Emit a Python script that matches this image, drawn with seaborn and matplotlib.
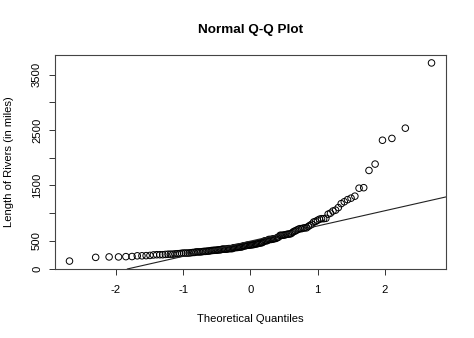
import matplotlib
matplotlib.use("Agg")
import matplotlib.pyplot as plt
import seaborn as sns
import pandas as pd
import numpy as np
from statistics import NormalDist

sns.set_style("white")
plt.rcParams['font.family'] = ['Liberation Sans', 'DejaVu Sans']
plt.rcParams['text.color'] = 'black'
plt.rcParams['axes.labelcolor'] = 'black'
plt.rcParams['xtick.color'] = 'black'
plt.rcParams['ytick.color'] = 'black'

# lengths of major North American rivers (miles)
rivers = [735, 320, 325, 392, 524, 450, 1459, 135, 465, 600, 330, 336, 280, 315, 870,
          906, 202, 329, 290, 1000, 600, 505, 1450, 840, 1243, 890, 350, 407, 286, 280,
          525, 720, 390, 250, 327, 230, 265, 850, 210, 630, 260, 230, 360, 730, 600,
          306, 390, 420, 291, 710, 340, 217, 281, 352, 259, 250, 470, 680, 570, 350,
          300, 560, 900, 625, 332, 2348, 1171, 3710, 2315, 2533, 780, 280, 410, 460, 260,
          255, 431, 350, 760, 618, 338, 981, 1306, 500, 696, 605, 250, 411, 1054, 735,
          233, 435, 490, 310, 460, 383, 375, 1270, 545, 445, 1885, 380, 300, 380, 377,
          425, 276, 210, 800, 420, 350, 360, 538, 1100, 1205, 314, 237, 610, 360, 540,
          1038, 424, 310, 300, 444, 301, 268, 620, 215, 652, 900, 525, 246, 360, 529,
          500, 720, 270, 430, 671, 1770]

x_ticks = [-2, -1, 0, 1, 2]
y_ticks = [0, 500, 1000, 1500, 2000, 2500, 3000, 3500]
y_labels = ["0", "500", "", "1500", "", "2500", "", "3500"]

# theoretical quantiles like R's qqnorm (ppoints, a = 0.5)
y = np.sort(np.array(rivers, dtype=float))
n = len(y)
nd = NormalDist()
theo = np.array([nd.inv_cdf((i + 0.5) / n) for i in range(n)])
df = pd.DataFrame({"Theoretical": theo, "Length": y})

fig = plt.figure(figsize=(4.74, 3.38), dpi=100)
ax = fig.add_axes([55 / 474, 69 / 338, 391 / 474, 214 / 338])

sns.scatterplot(data=df, x="Theoretical", y="Length", ax=ax, marker="o",
                facecolor="none", edgecolor="black", s=22, linewidth=0.7)

# qqline through the quartiles
q1, q3 = np.percentile(y, [25, 75])
z1, z3 = nd.inv_cdf(0.25), nd.inv_cdf(0.75)
slope = (q3 - q1) / (z3 - z1)
ax.axline((z1, q1), slope=slope, color="#222222", linewidth=0.8)

xr = theo.max() - theo.min()
yr = y.max() - y.min()
ax.set_xlim(theo.min() - 0.04 * xr, theo.max() + 0.04 * xr)
ax.set_ylim(y.min() - 0.04 * yr, y.max() + 0.04 * yr)

ax.set_xticks(x_ticks)
ax.set_xticklabels([str(t) for t in x_ticks])
ax.set_yticks(y_ticks)
ax.set_yticklabels(y_labels, rotation=90, va="center")
ax.tick_params(axis="both", direction="out", length=4.3, width=0.7, color="#333333",
               labelsize=8.1, bottom=True, left=True)
ax.tick_params(axis="x", pad=7)
ax.tick_params(axis="y", pad=5)

for sp in ax.spines.values():
    sp.set_color("#444444")
    sp.set_linewidth(0.8)

ax.set_xlabel("Theoretical Quantiles", fontsize=8.1, labelpad=14)
ax.set_ylabel("Length of Rivers (in miles)", fontsize=8.1, labelpad=13)
ax.set_title("Normal Q-Q Plot", fontsize=9.7, fontweight="bold", pad=16)

plt.savefig("out.png", dpi=100)
